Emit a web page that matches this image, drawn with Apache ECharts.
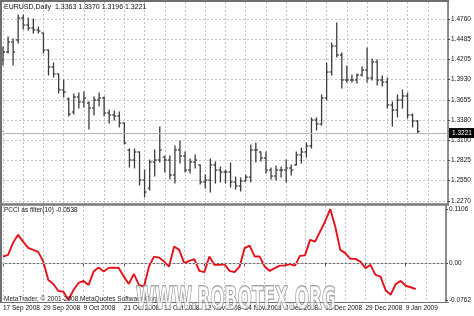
<!DOCTYPE html>
<html><head><meta charset="utf-8">
<script src="https://cdn.jsdelivr.net/npm/echarts@6/dist/echarts.min.js"></script>
<style>html,body{margin:0;padding:0;background:#fff}#c{width:474px;height:316px}</style>
</head><body><div id="c"></div>
<script>
// ---- data ----
const symbolTitle = 'EURUSD,Daily';
const indicatorTitle = 'PCCI as filter(10)';
const copyrightText = 'MetaTrader, \u00a9 2001-2008 MetaQuotes Software Corp.';
const watermarkText = 'WWW.ROBOTFX.ORG';

const dates = ['17 Sep 2008','18 Sep 2008','19 Sep 2008','22 Sep 2008','23 Sep 2008','24 Sep 2008','25 Sep 2008','26 Sep 2008','29 Sep 2008','30 Sep 2008',
'1 Oct 2008','2 Oct 2008','3 Oct 2008','6 Oct 2008','7 Oct 2008','8 Oct 2008','9 Oct 2008','10 Oct 2008','13 Oct 2008','14 Oct 2008','15 Oct 2008','16 Oct 2008','17 Oct 2008','20 Oct 2008','21 Oct 2008','22 Oct 2008','23 Oct 2008','24 Oct 2008','27 Oct 2008','28 Oct 2008','29 Oct 2008','30 Oct 2008','31 Oct 2008',
'3 Nov 2008','4 Nov 2008','5 Nov 2008','6 Nov 2008','7 Nov 2008','10 Nov 2008','11 Nov 2008','12 Nov 2008','13 Nov 2008','14 Nov 2008','17 Nov 2008','18 Nov 2008','19 Nov 2008','20 Nov 2008','21 Nov 2008','24 Nov 2008','25 Nov 2008','26 Nov 2008','27 Nov 2008','28 Nov 2008',
'1 Dec 2008','2 Dec 2008','3 Dec 2008','4 Dec 2008','5 Dec 2008','8 Dec 2008','9 Dec 2008','10 Dec 2008','11 Dec 2008','12 Dec 2008','15 Dec 2008','16 Dec 2008','17 Dec 2008','18 Dec 2008','19 Dec 2008','22 Dec 2008','23 Dec 2008','24 Dec 2008','26 Dec 2008','29 Dec 2008','30 Dec 2008','31 Dec 2008',
'2 Jan 2009','5 Jan 2009','6 Jan 2009','7 Jan 2009','8 Jan 2009','9 Jan 2009','12 Jan 2009','13 Jan 2009'];
const futureDates = ['14 Jan 2009','15 Jan 2009','16 Jan 2009','19 Jan 2009','20 Jan 2009','21 Jan 2009'];

const opens = [1.4199,1.4309,1.4445,1.4473,1.4774,1.4678,1.4637,1.4610,1.4568,1.4336,
1.4103,1.4008,1.3789,1.3666,1.3488,1.3693,1.3625,1.3611,1.3542,1.3652,1.3679,1.3474,1.3447,1.3433,1.3337,1.2968,1.2831,1.2941,1.2557,1.2448,1.2804,1.2831,1.2872,
1.2831,1.2626,1.2968,1.2886,1.2694,1.2804,1.2763,1.2530,1.2557,1.2763,1.2694,1.2667,1.2667,1.2530,1.2475,1.2544,1.2598,1.2968,1.2941,1.2858,
1.2694,1.2612,1.2694,1.2694,1.2722,1.2763,1.2900,1.2941,1.3023,1.3378,1.3324,1.3679,1.4035,1.4391,1.4268,1.3926,1.3926,1.3926,1.3994,1.4062,1.3953,1.4172,
1.3926,1.3898,1.3584,1.3515,1.3652,1.3707,1.3447,1.3363];
const highs = [1.4377,1.4514,1.4486,1.4815,1.4815,1.4774,1.4760,1.4651,1.4568,1.4336,
1.4158,1.4008,1.3926,1.3679,1.3734,1.3748,1.3761,1.3625,1.3693,1.3748,1.3693,1.3515,1.3501,1.3488,1.3337,1.2982,1.2982,1.2941,1.2694,1.2831,1.2968,1.3283,1.2886,
1.2886,1.3023,1.3091,1.2941,1.2845,1.2900,1.2763,1.2626,1.2845,1.2804,1.2735,1.2694,1.2790,1.2598,1.2585,1.2626,1.3036,1.3064,1.2941,1.2941,
1.2722,1.2749,1.2735,1.2831,1.2763,1.2941,1.2995,1.3064,1.3406,1.3406,1.3720,1.4158,1.4432,1.4705,1.4295,1.4117,1.3994,1.4008,1.4103,1.4363,1.4213,1.4199,
1.3980,1.3953,1.3625,1.3720,1.3789,1.3748,1.3460,1.3370];
const lows = [1.4131,1.4295,1.4131,1.4432,1.4623,1.4610,1.4568,1.4568,1.4295,1.3994,
1.3967,1.3748,1.3693,1.3433,1.3460,1.3542,1.3556,1.3255,1.3447,1.3570,1.3433,1.3337,1.3378,1.3283,1.3050,1.2735,1.2722,1.2489,1.2325,1.2421,1.2612,1.2804,1.2667,
1.2571,1.2516,1.2790,1.2667,1.2653,1.2722,1.2503,1.2448,1.2393,1.2516,1.2530,1.2516,1.2462,1.2434,1.2407,1.2544,1.2530,1.2804,1.2817,1.2653,
1.2571,1.2557,1.2598,1.2530,1.2626,1.2763,1.2790,1.2872,1.2995,1.3242,1.3310,1.3652,1.3994,1.4240,1.3816,1.3898,1.3898,1.3884,1.3980,1.3898,1.3926,1.3857,
1.3843,1.3542,1.3296,1.3419,1.3542,1.3406,1.3283,1.3196];
const closes = [1.4309,1.4445,1.4309,1.4774,1.4678,1.4637,1.4610,1.4596,1.4336,1.4103,
1.4008,1.3789,1.3761,1.3460,1.3693,1.3625,1.3679,1.3542,1.3652,1.3679,1.3474,1.3447,1.3433,1.3337,1.3064,1.2831,1.2941,1.2557,1.2393,1.2804,1.2831,1.2968,1.2831,
1.2626,1.2968,1.2886,1.2694,1.2804,1.2831,1.2530,1.2557,1.2763,1.2694,1.2667,1.2667,1.2530,1.2475,1.2544,1.2598,1.2968,1.2968,1.2858,1.2694,
1.2612,1.2694,1.2694,1.2722,1.2694,1.2900,1.2941,1.3023,1.3378,1.3324,1.3679,1.4035,1.4391,1.4268,1.3926,1.3926,1.3926,1.3994,1.4062,1.3953,1.4172,1.3926,
1.3898,1.3584,1.3515,1.3652,1.3707,1.3447,1.3365,1.3221];

const pcci = [0.0130,0.0165,0.0412,0.0576,0.0438,0.0309,0.0267,0.0226,0.0027,-0.0350,
-0.0432,-0.0576,-0.0591,-0.0762,-0.0556,-0.0412,-0.0370,-0.0453,-0.0179,-0.0097,-0.0179,-0.0103,-0.0097,-0.0103,-0.0282,-0.0432,-0.0226,-0.0453,-0.0488,-0.0076,0.0130,0.0109,0.0027,
-0.0076,0.0335,0.0267,-0.0006,0.0041,0.0076,-0.0165,-0.0191,0.0130,-0.0041,-0.0041,-0.0027,-0.0165,-0.0191,-0.0076,0.0302,0.0356,0.0130,0.0130,-0.0076,
-0.0165,-0.0109,-0.0056,-0.0056,-0.0027,-0.0056,0.0144,0.0154,0.0473,0.0438,0.0644,0.0850,0.1106,0.0747,0.0267,0.0200,0.0082,0.0082,0.0027,-0.0109,-0.0041,-0.0247,
-0.0282,-0.0556,-0.0658,-0.0438,-0.0370,-0.0470,-0.0500,-0.0538];

const priceTickValues = [1.4760,1.4485,1.4205,1.3930,1.3655,1.3380,1.3100,1.2825,1.2550,1.2270];
const priceTickLabels = ['1.4760','1.4485','1.4205','1.3930','1.3655','1.3380','1.3100','1.2825','1.2550','1.2270'];
const indTickValues = [0.1106,0,-0.0762];
const indTickLabels = ['0.1106','0.00','-0.0762'];

// ---- chart ----
const FONT = '"Liberation Sans", Arial, sans-serif';
const categories = dates.concat(futureDates);
const ohlc = dates.map((d, i) => [i, opens[i], highs[i], lows[i], closes[i]]);
const last = dates.length - 1;
function labelFor(values, labels) {
  return function (v) {
    let best = 0;
    for (let k = 1; k < values.length; k++) if (Math.abs(values[k] - v) < Math.abs(values[best] - v)) best = k;
    return labels[best];
  };
}
function renderBar(params, api) {
  const i = api.value(0);
  const pO = api.coord([i, api.value(1)]);
  const pH = api.coord([i, api.value(2)]);
  const pL = api.coord([i, api.value(3)]);
  const pC = api.coord([i, api.value(4)]);
  const cx = pH[0];
  const st = { stroke: '#3c3c3c', lineWidth: 1.3 };
  return { type: 'group', children: [
    { type: 'line', shape: { x1: cx, y1: pH[1] - 0.5, x2: cx, y2: pL[1] + 0.5 }, style: st },
    { type: 'line', shape: { x1: cx - 2, y1: pO[1], x2: cx, y2: pO[1] }, style: st },
    { type: 'line', shape: { x1: cx, y1: pC[1], x2: cx + 2, y2: pC[1] }, style: st }
  ]};
}
const gridLine = { show: true, lineStyle: { color: '#c4c4c4', type: [2, 2], width: 1 } };
const labelInterval = (idx) => idx % 8 === 0 && idx < dates.length;

const chart = echarts.init(document.getElementById('c'), null, { renderer: 'canvas' });
chart.setOption({
  animation: false,
  backgroundColor: '#ffffff',
  grid: [
    { left: 3, right: 26, top: 2, height: 201 },
    { left: 3, right: 26, top: 206, height: 96 }
  ],
  xAxis: [
    { type: 'category', gridIndex: 0, data: categories, boundaryGap: false,
      axisLine: { show: false }, axisTick: { show: false }, axisLabel: { show: false },
      splitLine: Object.assign({ interval: 3 }, gridLine) },
    { type: 'category', gridIndex: 1, data: categories, boundaryGap: false,
      axisLine: { show: true, lineStyle: { color: '#6e6e6e', width: 1 } },
      axisTick: { show: true, interval: labelInterval, length: 3, lineStyle: { color: '#444' } },
      axisLabel: { show: true, interval: labelInterval, align: 'left', margin: 3, fontSize: 6.5, fontFamily: FONT, color: '#111' },
      splitLine: Object.assign({ interval: 3 }, gridLine) }
  ],
  yAxis: [
    { type: 'value', gridIndex: 0, position: 'right', min: 1.2243, max: 1.4993, scale: true,
      axisLine: { show: true, lineStyle: { color: '#6e6e6e', width: 1.5 } },
      axisTick: { show: true, length: 2, customValues: priceTickValues, lineStyle: { color: '#444' } },
      axisLabel: { customValues: priceTickValues, formatter: labelFor(priceTickValues, priceTickLabels), fontSize: 6.5, fontFamily: FONT, color: '#111', margin: 3 },
      splitLine: gridLine },
    { type: 'value', gridIndex: 1, position: 'right', min: -0.0803, max: 0.1168,
      axisLine: { show: true, lineStyle: { color: '#6e6e6e', width: 1.5 } },
      axisTick: { show: true, length: 2, customValues: indTickValues, lineStyle: { color: '#444' } },
      axisLabel: { customValues: indTickValues, formatter: labelFor(indTickValues, indTickLabels), fontSize: 6.5, fontFamily: FONT, color: '#111', margin: 3 },
      splitLine: { show: false } }
  ],
  series: [
    { type: 'custom', xAxisIndex: 0, yAxisIndex: 0, renderItem: renderBar, data: ohlc,
      encode: { x: 0, y: [1, 2, 3, 4] }, clip: false,
      markLine: { silent: true, symbol: 'none', animation: false,
        lineStyle: { color: '#b4b4b4', type: 'solid', width: 1 },
        label: { show: true, position: 'end', distance: 1, formatter: closes[last].toFixed(4),
          backgroundColor: '#000', color: '#fff', padding: [2, 3, 1, 3], fontSize: 6.5, fontFamily: FONT },
        data: [{ yAxis: closes[last] }] } },
    { type: 'line', xAxisIndex: 1, yAxisIndex: 1, data: pcci, showSymbol: false, symbol: 'none',
      lineStyle: { color: '#e8101a', width: 1.9 },
      markLine: { silent: true, symbol: 'none', animation: false, label: { show: false },
        lineStyle: { color: '#c4c4c4', type: [2, 2], width: 1 }, data: [{ yAxis: 0 }] } }
  ],
  graphic: [
    { type: 'line', shape: { x1: 0, y1: 1, x2: 449, y2: 1 }, style: { stroke: '#6e6e6e', lineWidth: 2 }, z: 100 },
    { type: 'line', shape: { x1: 1, y1: 0, x2: 1, y2: 303 }, style: { stroke: '#6e6e6e', lineWidth: 2 }, z: 100 },
    { type: 'line', shape: { x1: 0, y1: 204.5, x2: 449, y2: 204.5 }, style: { stroke: '#7a7a7a', lineWidth: 2.5 }, z: 100 },
    { type: 'line', shape: { x1: 0, y1: 302.5, x2: 449, y2: 302.5 }, style: { stroke: '#6e6e6e', lineWidth: 1 }, z: 100 },
    { type: 'line', shape: { x1: 0, y1: 131.5, x2: 4, y2: 131.5 }, style: { stroke: '#b4b4b4', lineWidth: 1 }, z: 1 },
    { type: 'text', x: 4, y: 4, style: { text: symbolTitle + '  ' + [opens[last], highs[last], lows[last], closes[last]].map(v => v.toFixed(4)).join(' '), font: '7px ' + FONT, fill: '#111' }, z: 100 },
    { type: 'text', x: 4, y: 207, style: { text: indicatorTitle + ' ' + pcci[last].toFixed(4), font: '6.5px ' + FONT, fill: '#111' }, z: 100 },
    { type: 'text', x: 4, y: 296, style: { text: copyrightText, font: '6.5px ' + FONT, fill: '#222' }, z: 100 },
    { type: 'text', x: 236, y: 301, scaleX: 0.53, style: { text: watermarkText, x: 0, y: 0, textAlign: 'center', textVerticalAlign: 'middle',
      font: 'bold 32px "DejaVu Sans", sans-serif', fill: 'rgba(255,255,255,0.6)', stroke: '#8a8a8a', lineWidth: 1.5 }, z: 101 }
  ]
});
</script>
</body></html>
